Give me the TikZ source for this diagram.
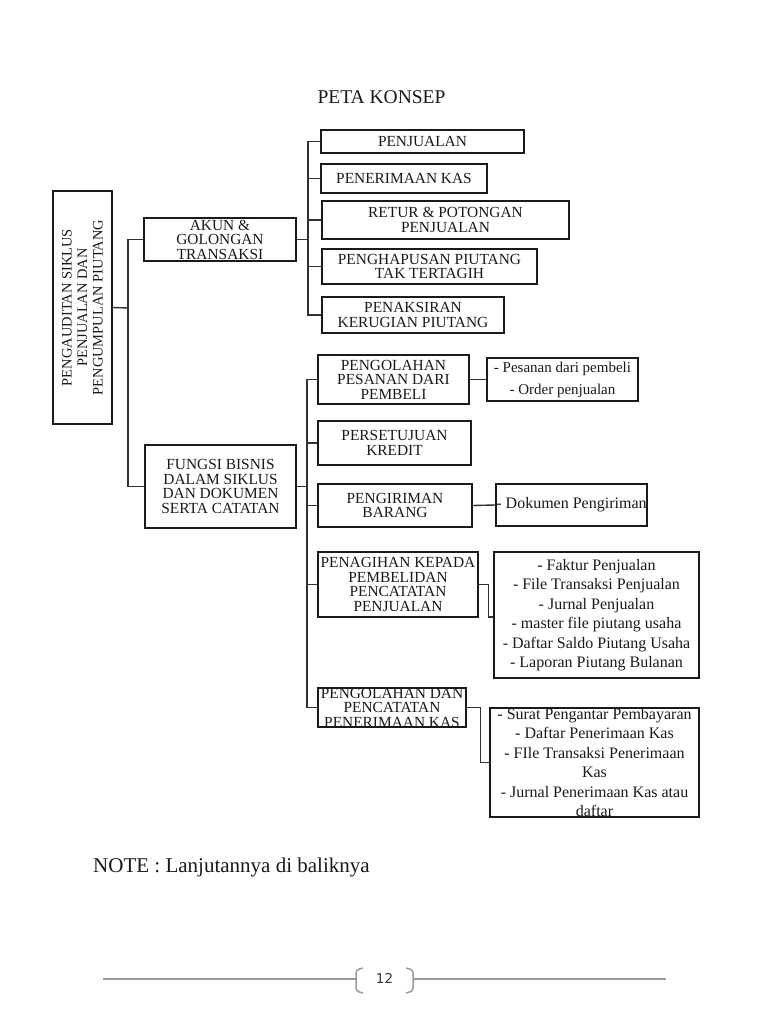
\documentclass[tikz,border=0pt]{standalone}
\usepackage{fontspec}
\setmainfont{Liberation Serif}
\newfontfamily\pagenumfont{DejaVu Sans}
\newcommand\capsfont{\fontsize{15.4}{14.5}\selectfont\lineskiplimit=-50pt\relax}
\newcommand\sidefont{\fontsize{14.5}{15.5}\selectfont\lineskiplimit=-50pt\relax}
\newcommand\itemfont{\fontsize{16}{19.5}\selectfont\lineskiplimit=-50pt\relax}
\definecolor{ink}{HTML}{1A1A1A}
\definecolor{footgray}{HTML}{9A9A9A}
\tikzset{
  box/.style={draw=ink, line width=1.5pt, inner sep=0pt, align=center, font=\capsfont, text=ink},
  docbox/.style={box, font=\itemfont},
  conn/.style={draw=ink!90, line width=1.4pt},
  footline/.style={draw=footgray, line width=1.6pt},
}
\begin{document}
\begin{tikzpicture}[x=1pt, y=-1pt]
\useasboundingbox (0,0) rectangle (768,1024);
\fill[white] (0,0) rectangle (768,1024);

% title
\node[anchor=base, font=\fontsize{19.5}{22}\selectfont, text=ink] (title) at (381.5,104) {PETA KONSEP};

% left root box
\node[box, minimum width=59pt, minimum height=233pt] (L) at (82.5,307.5) {};
\node[rotate=90, align=center, font=\sidefont, text=ink, inner sep=0pt] (Ltext) at (L.center)
  {PENGAUDITAN SIKLUS\\PENJUALAN DAN\\PENGUMPULAN PIUTANG};

% second level
\node[box, minimum width=152pt, minimum height=43pt] (A) at (220,239.5) {AKUN \&\\GOLONGAN\\TRANSAKSI};
\node[box, minimum width=151pt, minimum height=83pt] (F) at (220.5,486.5) {FUNGSI BISNIS\\DALAM SIKLUS\\DAN DOKUMEN\\SERTA CATATAN};

% accounts branch
\node[box, minimum width=203pt, minimum height=23pt] (P1) at (422.5,141.5) {PENJUALAN};
\node[box, minimum width=166pt, minimum height=29pt] (P2) at (404,178.5) {PENERIMAAN KAS};
\node[box, minimum width=247pt, minimum height=38pt] (P3) at (445.5,220) {RETUR \& POTONGAN\\PENJUALAN};
\node[box, minimum width=215pt, minimum height=35pt] (P4) at (429.5,266.5) {PENGHAPUSAN PIUTANG\\TAK TERTAGIH};
\node[box, minimum width=182pt, minimum height=36pt] (P5) at (413,315) {PENAKSIRAN\\KERUGIAN PIUTANG};

% functions branch
\node[box, minimum width=151pt, minimum height=49pt] (B1) at (393.5,379.5) {PENGOLAHAN\\PESANAN DARI\\PEMBELI};
\node[docbox, minimum width=151pt, minimum height=43pt, font=\fontsize{15}{22}\selectfont] (D1) at (562.5,379.5) {- Pesanan dari pembeli\\- Order penjualan};
\node[box, minimum width=153pt, minimum height=44pt] (B2) at (394.5,443) {PERSETUJUAN\\KREDIT};
\node[box, minimum width=154pt, minimum height=43pt] (B3) at (395,505.5) {PENGIRIMAN\\BARANG};
\node[docbox, minimum width=151pt, minimum height=42pt] (D3) at (571.5,505) {- Dokumen Pengiriman};
\node[box, minimum width=160pt, minimum height=65pt] (B4) at (398,584.5) {PENAGIHAN KEPADA\\PEMBELIDAN\\PENCATATAN\\PENJUALAN};
\node[docbox, minimum width=205pt, minimum height=126pt] (D4) at (596.5,615) {- Faktur Penjualan\\- File Transaksi Penjualan\\- Jurnal Penjualan\\- master file piutang usaha\\- Daftar Saldo Piutang Usaha\\- Laporan Piutang Bulanan};
\node[box, minimum width=148pt, minimum height=39pt] (B5) at (392,707.5) {PENGOLAHAN DAN\\PENCATATAN\\PENERIMAAN KAS};
\node[docbox, minimum width=209pt, minimum height=105pt] (D5) at (594.5,762.5) {- Surat Pengantar Pembayaran\\- Daftar Penerimaan Kas\\- FIle Transaksi Penerimaan\\Kas\\- Jurnal Penerimaan Kas atau\\daftar};

% connectors: root
\coordinate (j1) at (128,308);
\draw[conn] (L.east) -- (j1);
\draw[conn] (A.west) -| (j1) |- (F.west);

% connectors: accounts
\coordinate (j2) at (308,239.5);
\draw[conn] (A.east) -- (j2);
\foreach \n in {P1,P2,P3,P4,P5} { \draw[conn] (j2) |- (\n.west); }

% connectors: functions
\coordinate (j3) at (307,486.5);
\draw[conn] (F.east) -- (j3);
\foreach \n in {B1,B2,B3,B4,B5} { \draw[conn] (j3) |- (\n.west); }

% connectors: documents
\draw[conn] (B1.east) -- (D1.west);
\draw[conn] (B3.east) -- (D3.west);
\draw[conn] (B4.east) -- ++(10,0) |- ([yshift=-2pt]D4.west);
\draw[conn] (B5.east) -- ++(14,0) |- (D5.west);

% note
\node[anchor=base west, font=\fontsize{21}{24}\selectfont, text=ink, inner sep=0pt] (note) at (93,872) {NOTE : Lanjutannya di baliknya};

% footer
\node[font=\pagenumfont\fontsize{13.5}{16}\selectfont, text=black!80, inner sep=0pt] (pg) at (384.5,978) {12};
\coordinate (fl) at (103,979);
\coordinate (fr) at (666,979);
\coordinate (bl) at (356,979);
\coordinate (br) at (413,979);
\draw[footline] (fl) -- (bl);
\draw[footline] (br) -- (fr);
\draw[draw=footgray, line width=1.5pt, rounded corners=3pt] (363,968) -- (356,970) -- (356,991) -- (363,993);
\draw[draw=footgray, line width=1.5pt, rounded corners=3pt] (406,968) -- (413,970) -- (413,991) -- (406,993);
\end{tikzpicture}
\end{document}
